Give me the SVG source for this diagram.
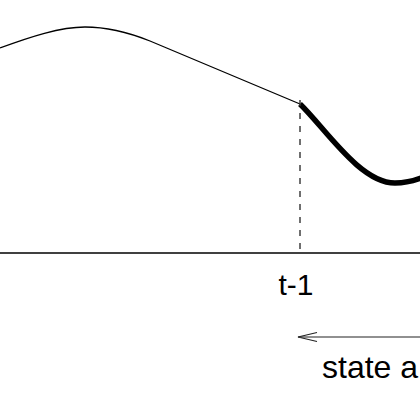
<svg xmlns="http://www.w3.org/2000/svg" width="420" height="420" viewBox="0 0 420 420">
<style>
.thin{fill:none;stroke:#000;stroke-width:1.3}
.thick{fill:none;stroke:#000;stroke-width:5.5;stroke-linecap:butt}
.dash{fill:none;stroke:#333;stroke-width:1.4;stroke-dasharray:6,7}
.axis{fill:none;stroke:#000;stroke-width:1.5}
.arr{fill:none;stroke:#222;stroke-width:1.2}
.lbl{font-family:"Liberation Sans",Arial,sans-serif;fill:#000}
</style>
<rect width="420" height="420" fill="#fff"/>
<g id="curves">
<path class="thin" d="M0,48 C30,37 60,27 85,27 C105,27 125,31 150,41 L300,104"/>
<path class="thick" d="M300,104 C325,128 360,183 395,183 C405,183 413,181 421,178"/>
</g>
<g id="marker-line">
<line class="dash" x1="300" y1="100" x2="300" y2="253"/>
</g>
<g id="axis">
<line class="axis" x1="0" y1="253" x2="420" y2="253"/>
</g>
<g id="label-t1">
<text class="lbl" x="296" y="295" font-size="30" text-anchor="middle">t-1</text>
</g>
<g id="connectors">
<line class="arr" x1="298" y1="337" x2="420" y2="337"/>
<polyline class="arr" points="317,332.5 298,337 317,341.5"/>
</g>
<g id="label-state">
<text class="lbl" x="322" y="378" font-size="32">state a</text>
</g>
</svg>
